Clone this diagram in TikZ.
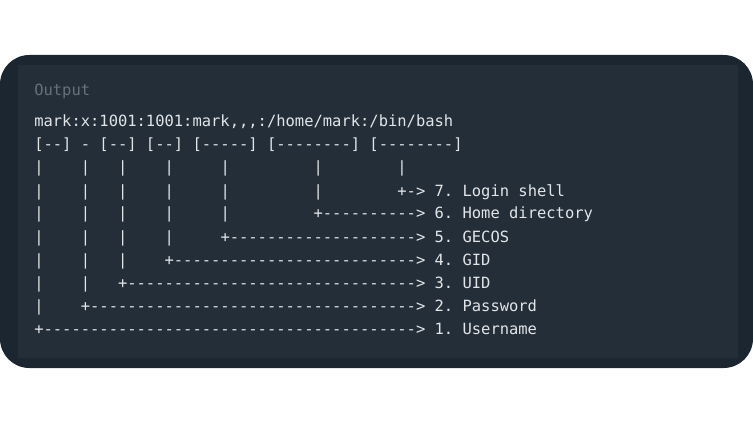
\documentclass[tikz,border=0pt]{standalone}
\usepackage{fontspec}
\setmonofont{DejaVu Sans Mono}
\begin{document}
\begin{tikzpicture}[x=0.75pt,y=-0.75pt,
  ln/.style={anchor=base west,inner sep=0pt,text=txt,font=\ttfamily\fontsize{11.6pt}{14pt}\selectfont}]
\definecolor{outer}{HTML}{1C2630}
\definecolor{inner}{HTML}{232E38}
\definecolor{txt}{HTML}{E2E5E8}
\definecolor{dim}{HTML}{66717C}
\useasboundingbox (0,0) rectangle (753,424);
\fill[outer,rounded corners=22pt] (0,55) rectangle (753,368);
\fill[inner] (18,65) rectangle (738,358);
\node[ln,text=dim] (out) at (34,96) {Output};
\node[ln] (l0) at (34,127) {mark:x:1001:1001:mark,,,:/home/mark:/bin/bash};
\node[ln] (l1) at (34,150) {[-{}-]~-~[-{}-]~[-{}-]~[-{}-{}-{}-{}-]~[-{}-{}-{}-{}-{}-{}-{}-]~[-{}-{}-{}-{}-{}-{}-{}-]};
\node[ln] (l2) at (34,173) {|~~~~|~~~|~~~~|~~~~~|~~~~~~~~~|~~~~~~~~|};
\node[ln] (l3) at (34,196) {|~~~~|~~~|~~~~|~~~~~|~~~~~~~~~|~~~~~~~~+->~7.~Login~shell};
\node[ln] (l4) at (34,219) {|~~~~|~~~|~~~~|~~~~~|~~~~~~~~~+----------{}>~6.~Home~directory};
\node[ln] (l5) at (34,242) {|~~~~|~~~|~~~~|~~~~~+--------------------{}>~5.~GECOS};
\node[ln] (l6) at (34,265) {|~~~~|~~~|~~~~+--------------------------{}>~4.~GID};
\node[ln] (l7) at (34,288) {|~~~~|~~~+-------------------------------{}>~3.~UID};
\node[ln] (l8) at (34,311) {|~~~~+-----------------------------------{}>~2.~Password};
\node[ln] (l9) at (34,334) {+----------------------------------------{}>~1.~Username};
\end{tikzpicture}
\end{document}
